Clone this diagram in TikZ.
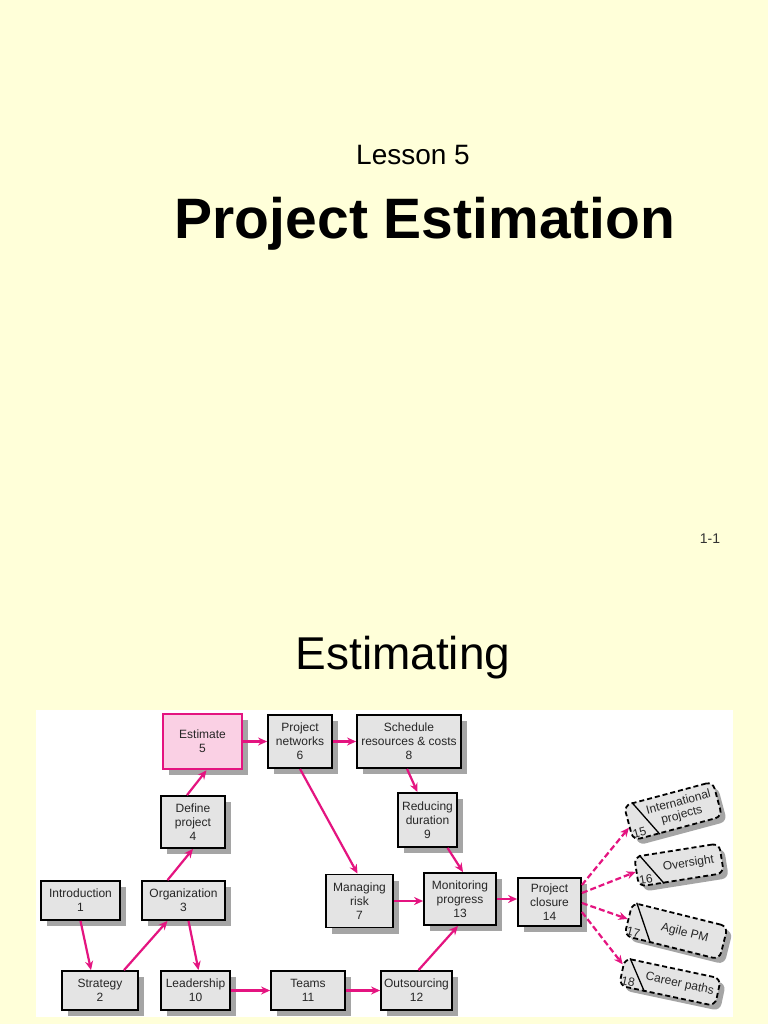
\documentclass[tikz,border=0pt]{standalone}
\usepackage{fontspec}
\setmainfont{Liberation Sans}
\usetikzlibrary{arrows.meta,calc,shadows}

\definecolor{slidebg}{RGB}{255,255,217}
\definecolor{boxgray}{RGB}{228,228,228}
\definecolor{shadowgray}{RGB}{165,165,165}
\definecolor{linkpink}{RGB}{228,20,128}
\definecolor{estpink}{RGB}{250,208,228}

\begin{document}
\begin{tikzpicture}[x=1pt,y=1pt,>={Stealth[length=9pt,width=8pt]},
    taskbox/.style={draw=black,line width=1.8pt,fill=boxgray,text=black!85,align=center,
      font=\fontsize{12}{14}\selectfont,inner sep=0pt,minimum height=39,
      drop shadow={shadow xshift=6pt,shadow yshift=-6pt,fill=shadowgray,opacity=1}},
    endbox/.style={draw=black,line width=1.8pt,dash pattern=on 5pt off 3pt,rounded corners=7pt,
      fill=boxgray,inner sep=0pt,
      drop shadow={shadow xshift=5pt,shadow yshift=-5pt,fill=shadowgray,opacity=1}},
    endtext/.style={font=\fontsize{12}{13}\selectfont,text=black!85,align=center,inner sep=0pt},
    endnum/.style={font=\fontsize{12}{14}\selectfont,text=black!85,inner xsep=2pt,inner ysep=2pt},
    link/.style={->,line width=2.2pt,linkpink},
    dlink/.style={link,dash pattern=on 6pt off 3pt}]
  % Slides
  \fill[slidebg] (0,0) rectangle (768,-1024);
  \fill[white] (36,-710) rectangle (733,-1017);
  % Titles
  \node[font=\fontsize{28}{34}\selectfont,anchor=base] (lesson) at (413,-165) {Lesson 5};
  \node[font={\fontsize{57}{68}\selectfont\bfseries},anchor=base] (title) at (425,-238) {Project Estimation};
  \node[font=\fontsize{14}{16}\selectfont,anchor=base,text=black!80] (pagenum) at (710,-543) {1-1};
  \node[font=\fontsize{46}{55}\selectfont,anchor=base] (heading) at (403,-669) {Estimating};
  % Chapters
  \node[taskbox,minimum width=79] (intro) at (80.5,-900.5) {Introduction\\1};
  \node[taskbox,minimum width=76] (strategy) at (100,-990.5) {Strategy\\2};
  \node[taskbox,minimum width=83] (org) at (183.5,-900.5) {Organization\\3};
  \node[taskbox,minimum width=64,minimum height=52] (define) at (193,-822) {Define\\project\\4};
  \node[taskbox,minimum width=79,minimum height=55,draw=linkpink,fill=estpink,line width=2.6pt] (estimate) at (202.5,-741.5) {Estimate\\5};
  \node[taskbox,minimum width=64,minimum height=53] (networks) at (300,-741.5) {Project\\networks\\6};
  \node[taskbox,minimum width=67,minimum height=53] (risk) at (359.5,-901) {Managing\\risk\\7};
  \node[taskbox,minimum width=104,minimum height=53] (schedule) at (409,-741.5) {Schedule\\resources \& costs\\8};
  \node[taskbox,minimum width=59,minimum height=54] (reduce) at (427.5,-820) {Reducing\\duration\\9};
  \node[taskbox,minimum width=69] (leader) at (195.5,-990.5) {Leadership\\10};
  \node[taskbox,minimum width=74] (teams) at (308,-990.5) {Teams\\11};
  \node[taskbox,minimum width=71] (outsource) at (416.5,-990.5) {Outsourcing\\12};
  \node[taskbox,minimum width=72,minimum height=52] (monitor) at (460,-899) {Monitoring\\progress\\13};
  \node[taskbox,minimum width=63,minimum height=48] (closure) at (549.5,-902) {Project\\closure\\14};
  % Extensions
  \node[endbox,rotate=15,minimum width=92,minimum height=36] (e15) at (673,-811) {};
  \node[endbox,rotate=9,minimum width=86,minimum height=30] (e16) at (679,-865) {};
  \node[endbox,rotate=-14,minimum width=98,minimum height=34] (e17) at (676,-931) {};
  \node[endbox,rotate=-12,minimum width=98,minimum height=28] (e18) at (670,-982) {};
  \node[endtext,rotate=15] (t15) at ($(e15.center)!0.16!(e15.east)$) {International\\projects};
  \node[endtext,rotate=9] (t16) at ($(e16.center)!0.22!(e16.east)$) {Oversight};
  \node[endtext,rotate=-14] (t17) at ($(e17.center)!0.18!(e17.east)$) {Agile PM};
  \node[endtext,rotate=-12] (t18) at ($(e18.center)!0.2!(e18.east)$) {Career paths};
  \node[endnum,rotate=15,anchor=south west] (n15) at (e15.south west) {15};
  \node[endnum,rotate=9,anchor=south west] (n16) at (e16.south west) {16};
  \node[endnum,rotate=-14,anchor=south west] (n17) at (e17.south west) {17};
  \node[endnum,rotate=-12,anchor=south west] (n18) at (e18.south west) {18};
  \draw[line width=1.3pt] ($(e15.north west)!0.1!(e15.north east)$) -- ($(e15.south west)!0.3!(e15.south east)$);
  \draw[line width=1.3pt] ($(e16.north west)!0.07!(e16.north east)$) -- ($(e16.south west)!0.3!(e16.south east)$);
  \draw[line width=1.3pt] ($(e17.north west)!0.05!(e17.north east)$) -- ($(e17.south west)!0.28!(e17.south east)$);
  \draw[line width=1.3pt] ($(e18.north west)!0.06!(e18.north east)$) -- ($(e18.south west)!0.27!(e18.south east)$);
  % Links
  \draw[link] (intro.south) -- ([xshift=-9]strategy.north);
  \draw[link] ([xshift=24]strategy.north) -- ([xshift=-16]org.south);
  \draw[link] ([xshift=-16]org.north) -- (define.south);
  \draw[link] ([xshift=-6]define.north) -- ([xshift=4]estimate.south);
  \draw[link] ([xshift=5]org.south) -- ([xshift=3]leader.north);
  \draw[link] (estimate.east) -- (networks.west);
  \draw[link] (networks.east) -- (schedule.west);
  \draw[link] (networks.south) -- ([xshift=-2]risk.north);
  \draw[link] ([xshift=-2]schedule.south) -- ([xshift=-10]reduce.north);
  \draw[link] ([xshift=20]reduce.south) -- ([xshift=3]monitor.north);
  \draw[link] (risk.east) -- (risk.east -| monitor.west);
  \draw[link] (monitor.east) -- (monitor.east -| closure.west);
  \draw[link] (leader.east) -- (teams.west);
  \draw[link] (teams.east) -- (outsource.west);
  \draw[link] ([xshift=2]outsource.north) -- ([xshift=-2]monitor.south);
  \draw[dlink] ([yshift=17]closure.east) -- ($(e15.west)!0.25!(e15.south west)$);
  \draw[dlink] ([yshift=9]closure.east) -- (e16.west);
  \draw[dlink] ([yshift=-1]closure.east) -- (e17.west);
  \draw[dlink] ([yshift=-10]closure.east) -- ($(e18.west)!0.5!(e18.north west)$);
\end{tikzpicture}
\end{document}
